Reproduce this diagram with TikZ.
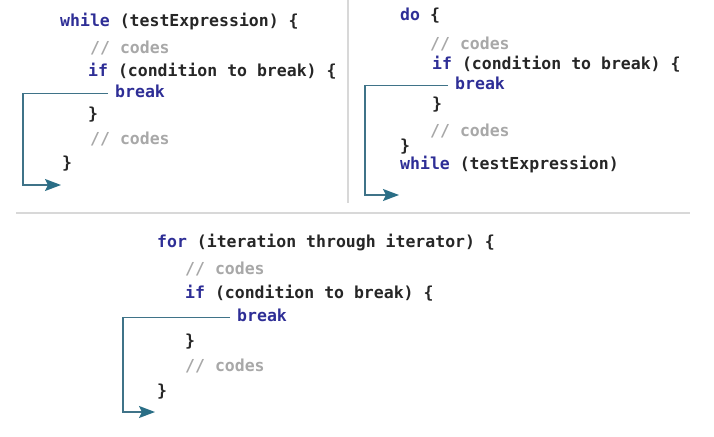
\documentclass[tikz,border=0pt]{standalone}
\usepackage{fontspec}
\setmonofont{DejaVu Sans Mono}
\usetikzlibrary{arrows.meta}
\definecolor{kwblue}{HTML}{2E2E96}
\definecolor{cmtgray}{HTML}{A8A8A8}
\definecolor{txtblack}{HTML}{262626}
\definecolor{jumpteal}{HTML}{3F7388}
\definecolor{headteal}{HTML}{2A6E86}
\definecolor{rulegray}{HTML}{D8D8D8}
\newcommand\kwd[1]{\textcolor{kwblue}{#1}}
\newcommand\cmt[1]{\textcolor{cmtgray}{#1}}
\begin{document}
\begin{tikzpicture}[x=1pt,y=-1pt,
  code/.style={anchor=base west,inner sep=0pt,text=txtblack,text depth=5pt,
    font=\ttfamily\bfseries\fontsize{16.5}{20}\selectfont},
  jump/.style={draw=jumpteal,line width=1.4pt,shorten <=7pt,
    -{Stealth[length=16pt,width=12pt,inset=3pt,color=headteal]}},
  divider/.style={draw=rulegray,line width=1.2pt}]
\useasboundingbox (0,0) rectangle (714,436);

\draw[divider] (348,0) -- (348,203);
\draw[divider] (16,213) -- (690,213);

% while loop
\node[code] (w1) at (60,27) {\kwd{while} (testExpression) \{};
\node[code] (w2) at (90,53) {\cmt{// codes}};
\node[code] (w3) at (88,77) {\kwd{if} (condition to break) \{};
\node[code] (brk1) at (115,97) {\kwd{break}};
\node[code] (w5) at (88,119) {\}};
\node[code] (w6) at (90,144) {\cmt{// codes}};
\node[code] (w7) at (62,168) {\}};
\coordinate (turn1) at (23,185);
\coordinate (out1) at (61,185);
\draw[jump] (brk1.west) -| (turn1) -- (out1);

% do while loop
\node[code] (d1) at (400,21) {\kwd{do} \{};
\node[code] (d2) at (430,49) {\cmt{// codes}};
\node[code] (d3) at (432,69) {\kwd{if} (condition to break) \{};
\node[code] (brk2) at (455,89) {\kwd{break}};
\node[code] (d5) at (432,109) {\}};
\node[code] (d6) at (430,136) {\cmt{// codes}};
\node[code] (d7) at (400,151) {\}};
\node[code] (d8) at (400,169) {\kwd{while} (testExpression)};
\coordinate (turn2) at (365,195);
\coordinate (out2) at (399,195);
\draw[jump] (brk2.west) -| (turn2) -- (out2);

% for loop
\node[code] (f1) at (157,247) {\kwd{for} (iteration through iterator) \{};
\node[code] (f2) at (185,274) {\cmt{// codes}};
\node[code] (f3) at (185,298) {\kwd{if} (condition to break) \{};
\node[code] (brk3) at (237,321) {\kwd{break}};
\node[code] (f5) at (185,346) {\}};
\node[code] (f6) at (185,371) {\cmt{// codes}};
\node[code] (f7) at (157,396) {\}};
\coordinate (turn3) at (123,412);
\coordinate (out3) at (155,412);
\draw[jump] (brk3.west) -| (turn3) -- (out3);
\end{tikzpicture}
\end{document}
